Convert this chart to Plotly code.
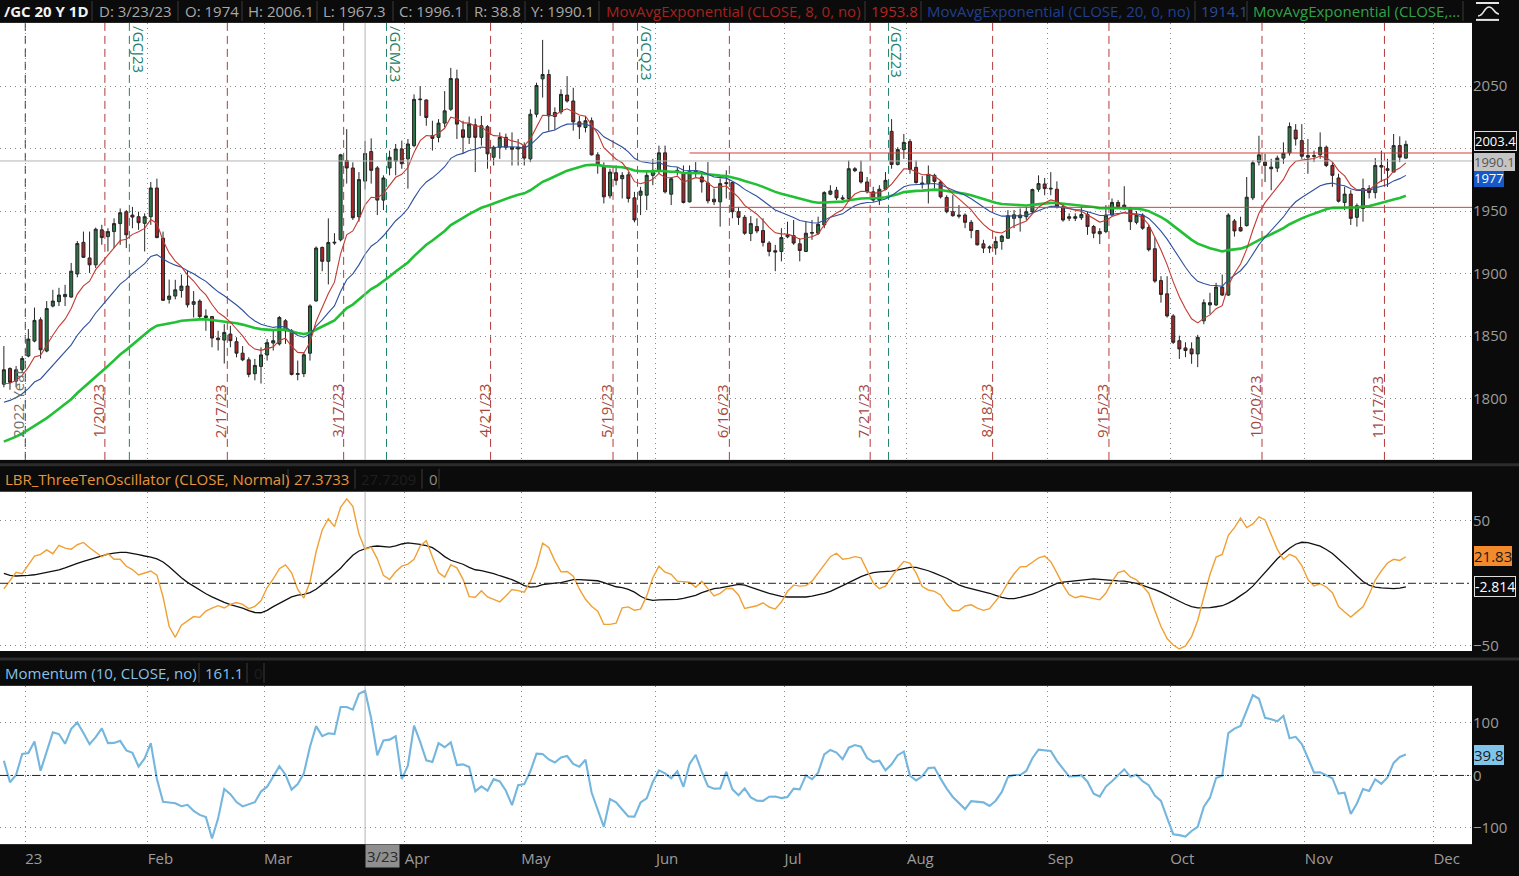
import numpy as np
import pandas as pd
import plotly.graph_objects as go

# ---------------- DATA ----------------
holidays = ["2023-01-02", "2023-01-16", "2023-02-20", "2023-04-07", "2023-05-29",
            "2023-06-19", "2023-07-04", "2023-09-04", "2023-11-23", "2023-12-25"]
calendar = pd.bdate_range("2022-12-27", "2023-12-29", freq="C", holidays=holidays)

open_ = [1811.5, 1824.0, 1814.0, 1823.0, 1834.0, 1846.0, 1863.0, 1838.0, 1874.0, 1877.5,
         1881.5, 1881.2, 1899.7, 1925.0, 1912.5, 1907.0, 1935.0, 1929.6, 1933.6, 1940.0,
         1949.5, 1946.8, 1945.5, 1940.2, 1945.5, 1968.5, 1928.3, 1879.4, 1882.0, 1886.5,
         1890.0, 1875.4, 1878.0, 1864.8, 1865.6, 1848.4, 1846.8, 1851.6, 1845.5, 1836.3,
         1831.0, 1819.9, 1825.7, 1834.9, 1844.4, 1843.7, 1862.2, 1854.2, 1819.3, 1819.9,
         1836.3, 1878.1, 1920.9, 1909.8, 1924.4, 1927.0, 1990.5, 1984.5, 1945.5, 1974.0,
         1997.6, 1984.5, 1958.8, 1984.5, 1990.0, 1999.7, 1991.8, 2002.4, 2039.7, 2038.9,
         2010.3, 2009.0, 2020.4, 2031.5, 2055.8, 2015.0, 2009.0, 2019.0, 2009.0, 2017.5,
         1993.1, 2001.1, 2009.0, 2001.0, 1999.7, 2002.4, 1991.8, 2027.5, 2055.8, 2059.3,
         2028.9, 2029.4, 2042.8, 2038.1, 2021.4, 2016.9, 2022.3, 1995.0, 1985.0, 1962.2,
         1980.7, 1975.9, 1979.0, 1960.6, 1962.7, 1962.7, 1978.6, 1982.6, 1996.6, 1963.5,
         1981.2, 1979.9, 1957.4, 1981.0, 1977.3, 1972.5, 1959.5, 1957.4, 1972.8, 1972.8,
         1949.5, 1945.0, 1932.0, 1937.6, 1934.4, 1924.4, 1918.3, 1917.7, 1929.4, 1930.4,
         1923.8, 1917.7, 1932.3, 1932.3, 1938.9, 1963.5, 1966.7, 1960.6, 1960.1, 1983.9,
         1981.2, 1973.3, 1965.4, 1958.8, 1967.5, 2013.8, 1987.3, 1999.2, 2005.6, 1985.0,
         1972.5, 1972.0, 1978.6, 1973.3, 1960.9, 1949.5, 1946.8, 1946.8, 1941.0, 1934.4,
         1923.8, 1920.4, 1920.4, 1925.7, 1928.3, 1944.2, 1944.7, 1945.5, 1949.5, 1967.5,
         1971.7, 1968.3, 1967.5, 1953.4, 1945.5, 1944.2, 1944.7, 1947.3, 1937.6, 1933.6,
         1933.6, 1946.8, 1956.9, 1952.6, 1952.1, 1941.0, 1946.8, 1936.8, 1919.9, 1894.4,
         1883.8, 1866.1, 1846.3, 1840.5, 1839.7, 1835.7, 1862.2, 1874.9, 1874.9, 1889.2,
         1882.8, 1942.1, 1936.8, 1938.4, 1960.6, 1989.2, 1989.2, 1985.2, 1984.4, 1992.4,
         1996.6, 2014.8, 2006.4, 1993.1, 1994.4, 1995.0, 2001.1, 1986.5, 1976.5, 1956.9,
         1963.6, 1945.0, 1952.1, 1968.0, 1964.8, 1986.5, 1983.9, 1981.2, 2002.4, 1992.4]
high = [1842.0, 1825.0, 1826.0, 1834.0, 1855.6, 1872.8, 1865.0, 1878.0, 1887.0, 1888.6,
        1891.0, 1908.5, 1926.0, 1933.6, 1933.6, 1936.8, 1939.0, 1936.3, 1944.2, 1952.1,
        1950.8, 1953.4, 1949.5, 1948.2, 1973.3, 1975.9, 1933.6, 1895.2, 1895.0, 1899.2,
        1902.4, 1886.0, 1879.4, 1871.4, 1866.1, 1854.2, 1859.5, 1858.2, 1849.0, 1842.0,
        1833.0, 1831.7, 1841.0, 1847.6, 1854.0, 1866.0, 1863.5, 1855.6, 1830.4, 1837.0,
        1875.4, 1921.7, 1921.7, 1944.2, 1932.3, 1995.8, 2015.6, 1989.0, 1981.2, 2006.1,
        2008.2, 1986.0, 1978.6, 1998.4, 2003.7, 2006.4, 2007.7, 2043.4, 2050.0, 2039.4,
        2022.3, 2023.6, 2046.0, 2064.6, 2063.2, 2022.3, 2025.7, 2024.0, 2026.2, 2018.8,
        2002.4, 2013.0, 2012.0, 2013.0, 2007.7, 2005.0, 2031.5, 2052.7, 2087.0, 2063.2,
        2033.0, 2047.4, 2058.0, 2048.7, 2026.2, 2026.2, 2024.9, 1997.1, 1989.0, 1983.9,
        1986.5, 1981.2, 1981.2, 1965.4, 1969.4, 1981.2, 1991.8, 2002.4, 2002.4, 1977.3,
        1985.0, 1986.5, 1986.5, 1989.2, 1979.9, 1989.2, 1968.0, 1976.0, 1982.6, 1973.3,
        1953.4, 1946.8, 1946.0, 1944.2, 1944.2, 1926.0, 1923.0, 1936.3, 1941.5, 1942.9,
        1928.3, 1941.5, 1942.9, 1945.5, 1965.9, 1970.7, 1969.4, 1962.7, 1990.5, 1985.2,
        1990.5, 1977.3, 1969.4, 1970.7, 1981.2, 2023.6, 2001.1, 2011.7, 2007.7, 1990.5,
        1978.0, 1986.5, 1979.9, 1974.6, 1962.7, 1962.7, 1954.8, 1948.2, 1942.9, 1934.9,
        1927.0, 1922.5, 1929.6, 1931.0, 1950.8, 1950.8, 1952.1, 1953.4, 1968.0, 1978.6,
        1976.5, 1981.2, 1973.8, 1956.1, 1948.2, 1948.2, 1954.8, 1949.5, 1938.9, 1936.3,
        1954.8, 1960.1, 1958.8, 1969.9, 1953.4, 1950.0, 1948.2, 1938.9, 1928.8, 1897.9,
        1897.9, 1867.5, 1850.3, 1845.0, 1845.0, 1851.0, 1879.4, 1884.6, 1892.6, 1899.2,
        1948.2, 1943.7, 1945.5, 1977.3, 1990.5, 2010.3, 1995.8, 1991.8, 1994.4, 2005.0,
        2020.9, 2019.6, 2019.6, 2007.7, 1998.4, 2013.0, 2002.4, 1989.2, 1979.9, 1969.4,
        1966.7, 1956.1, 1976.0, 1970.7, 1992.4, 1998.4, 1991.8, 2011.7, 2009.8, 2006.4]
low = [1809.0, 1807.0, 1809.0, 1821.0, 1833.0, 1845.0, 1832.0, 1837.0, 1873.0, 1874.0,
       1874.0, 1880.7, 1897.0, 1912.5, 1900.5, 1904.5, 1923.0, 1917.7, 1920.4, 1923.0,
       1920.4, 1936.3, 1935.0, 1917.7, 1939.0, 1928.3, 1878.0, 1876.0, 1879.4, 1880.7,
       1872.8, 1864.8, 1863.5, 1854.2, 1841.0, 1838.4, 1828.0, 1841.0, 1833.0, 1829.9,
       1817.0, 1814.6, 1812.0, 1830.4, 1838.4, 1842.4, 1843.7, 1818.5, 1814.6, 1817.2,
       1830.4, 1877.5, 1901.9, 1891.3, 1923.0, 1925.7, 1972.0, 1942.9, 1941.5, 1967.3,
       1972.0, 1946.8, 1950.8, 1978.6, 1978.6, 1983.9, 1968.0, 2001.1, 2026.2, 2018.3,
       1998.4, 2005.0, 2017.0, 2030.2, 2007.7, 1995.8, 2003.7, 1981.2, 2002.4, 1983.9,
       1986.5, 1991.8, 1999.0, 1986.5, 1986.5, 1986.5, 1989.2, 2025.0, 2040.8, 2014.3,
       2015.0, 2027.5, 2036.8, 2014.3, 2007.7, 2013.0, 1994.5, 1979.9, 1956.1, 1960.1,
       1970.7, 1960.1, 1956.9, 1941.0, 1946.8, 1950.8, 1970.7, 1979.9, 1964.1, 1954.8,
       1978.6, 1956.1, 1956.9, 1977.3, 1964.8, 1956.1, 1954.8, 1937.6, 1960.1, 1944.2,
       1938.9, 1931.0, 1926.0, 1932.3, 1921.7, 1913.8, 1901.9, 1909.8, 1928.3, 1923.0,
       1909.8, 1917.2, 1927.0, 1931.0, 1936.3, 1962.7, 1958.8, 1958.8, 1957.4, 1981.2,
       1972.0, 1964.1, 1957.4, 1954.8, 1966.7, 1983.9, 1986.5, 1991.8, 1979.9, 1972.0,
       1968.0, 1956.1, 1968.0, 1960.1, 1948.2, 1945.5, 1944.2, 1936.3, 1928.3, 1922.5,
       1916.4, 1916.4, 1915.1, 1919.1, 1927.8, 1936.3, 1933.6, 1942.9, 1948.2, 1965.4,
       1962.7, 1962.7, 1952.1, 1941.5, 1942.0, 1942.0, 1942.9, 1931.0, 1928.3, 1923.6,
       1932.3, 1946.3, 1952.1, 1950.8, 1934.9, 1939.4, 1935.0, 1917.7, 1892.6, 1876.7,
       1864.8, 1843.7, 1831.7, 1833.1, 1827.8, 1825.1, 1859.5, 1867.5, 1874.1, 1882.0,
       1882.0, 1929.6, 1933.6, 1937.6, 1958.8, 1986.5, 1973.3, 1966.7, 1981.2, 1987.9,
       1994.4, 2002.4, 1991.8, 1979.9, 1989.2, 1991.8, 1985.2, 1969.4, 1956.9, 1950.8,
       1938.9, 1937.6, 1941.5, 1960.1, 1960.1, 1973.3, 1969.4, 1981.2, 1989.2, 1991.8]
close = [1823.0, 1813.0, 1823.0, 1832.0, 1847.6, 1862.5, 1839.0, 1872.0, 1878.0, 1882.8,
         1883.3, 1901.9, 1924.0, 1913.0, 1907.0, 1935.5, 1928.8, 1933.6, 1940.0, 1948.7,
         1931.0, 1945.2, 1940.7, 1945.5, 1968.5, 1928.8, 1878.6, 1882.0, 1887.0, 1890.0,
         1875.0, 1877.5, 1865.6, 1866.1, 1848.4, 1847.1, 1852.9, 1846.3, 1836.3, 1831.0,
         1819.3, 1826.5, 1834.9, 1844.7, 1846.3, 1864.8, 1854.2, 1819.3, 1819.9, 1835.0,
         1874.1, 1920.4, 1909.8, 1924.9, 1925.0, 1995.0, 1984.5, 1944.7, 1975.2, 1996.1,
         1982.6, 1958.8, 1976.5, 1993.1, 1999.7, 1987.9, 2003.7, 2039.4, 2039.2, 2024.9,
         2008.2, 2020.4, 2030.2, 2056.1, 2019.6, 2009.0, 2019.6, 2009.0, 2018.3, 1995.8,
         2001.1, 2009.0, 2001.1, 1999.5, 2001.0, 1992.4, 2027.5, 2050.5, 2059.3, 2026.2,
         2025.7, 2043.4, 2038.1, 2021.4, 2017.5, 2022.3, 1995.0, 1987.0, 1961.4, 1981.2,
         1974.6, 1978.6, 1960.1, 1942.9, 1966.0, 1978.6, 1982.6, 1996.6, 1965.4, 1975.9,
         1982.6, 1956.9, 1981.8, 1982.3, 1973.3, 1958.2, 1957.4, 1972.0, 1972.0, 1949.5,
         1945.0, 1932.3, 1940.0, 1934.1, 1924.9, 1917.7, 1917.2, 1928.8, 1931.0, 1924.4,
         1918.5, 1932.3, 1932.8, 1939.4, 1964.8, 1966.1, 1960.6, 1959.8, 1983.9, 1982.3,
         1973.3, 1965.4, 1958.8, 1967.5, 1974.6, 1987.3, 1999.2, 2005.0, 1983.3, 1972.8,
         1971.7, 1979.4, 1973.8, 1961.4, 1949.5, 1946.3, 1946.0, 1941.0, 1934.4, 1923.0,
         1920.4, 1921.2, 1925.7, 1930.0, 1946.3, 1947.0, 1946.8, 1949.5, 1967.2, 1972.0,
         1968.0, 1967.8, 1953.4, 1942.9, 1944.2, 1945.5, 1947.3, 1937.6, 1932.3, 1931.8,
         1946.8, 1956.9, 1953.4, 1954.8, 1941.5, 1946.8, 1936.3, 1919.1, 1894.0, 1883.3,
         1866.1, 1845.0, 1839.7, 1838.4, 1835.7, 1849.0, 1876.7, 1876.7, 1889.2, 1882.8,
         1946.8, 1934.1, 1934.1, 1961.1, 1988.6, 1995.0, 1986.5, 1983.9, 1992.4, 1996.3,
         2017.7, 2007.7, 1993.9, 1994.4, 1993.9, 2001.1, 1986.5, 1978.6, 1957.9, 1963.6,
         1944.2, 1954.3, 1968.0, 1964.8, 1986.5, 1985.2, 1982.6, 2002.4, 1993.1, 2003.4]
# closes of the sessions before the first visible bar (indicator look-back only)
warmup_close = [1754, 1749, 1759, 1769, 1754, 1763, 1780, 1815, 1809, 1781, 1785, 1798,
                1800, 1810, 1795, 1826, 1822, 1791, 1805, 1798, 1830, 1826, 1796, 1804]
ema_seed = {8: 1812.0, 20: 1797.0, 50: 1765.5}   # EMA values on the first visible bar

price_ticks = [1750, 1800, 1850, 1900, 1950, 2000, 2050]
price_tick_text = ["1750", "1800", "1850", "1900", "1950", "", "2050"]  # 2000 sits under the value boxes
month_labels = ["23", "Feb", "Mar", "Apr", "May", "Jun", "Jul", "Aug", "Sep", "Oct", "Nov", "Dec"]
exp_dates = ["2023-01-20", "2023-02-17", "2023-03-17", "2023-04-21", "2023-05-19", "2023-06-16",
             "2023-07-21", "2023-08-18", "2023-09-15", "2023-10-20", "2023-11-17"]
exp_labels = ["1/20/23", "2/17/23", "3/17/23", "4/21/23", "5/19/23", "6/16/23",
              "7/21/23", "8/18/23", "9/15/23", "10/20/23", "11/17/23"]
roll_dates = ["2023-01-26", "2023-03-28", "2023-05-25", "2023-07-26"]
roll_labels = ["/GCJ23", "/GCM23", "/GCQ23", "/GCZ23"]
level_start = "2023-06-08"
level_prices = [1996.5, 1953.0]
cross_date = "2023-03-23"
cross_price = 1990.1
last_price_label = ("2003.4", 2003.4)
ema20_label = ("1977", 1977.0)
osc_labels = ("21.83", 21.83, "-2.814", -2.814)
mom_label = ("39.8", 39.8)

# ---------------- DERIVED ----------------
n = len(close)
xk = np.arange(n)
cal_list = list(calendar)
pos = {d.strftime("%Y-%m-%d"): i for i, d in enumerate(cal_list)}

def ema(vals, period, seed):
    k = 2.0 / (period + 1)
    out = [seed]
    for v in vals[1:]:
        out.append(out[-1] + k * (v - out[-1]))
    return np.array(out)

ema8 = ema(close, 8, ema_seed[8])
ema20 = ema(close, 20, ema_seed[20])
ema50 = ema(close, 50, ema_seed[50])

full = pd.Series(warmup_close + close, dtype=float)
fast_full = full.rolling(3).mean() - full.rolling(10).mean()
fast = fast_full.to_numpy()[len(warmup_close):]
slow = fast_full.rolling(16).mean().to_numpy()[len(warmup_close):]
mom = (full - full.shift(10)).to_numpy()[len(warmup_close):]

# month boundaries (between last bar of previous month and first bar of the month)
month_pos = []
for i in range(1, len(cal_list)):
    if cal_list[i].month != cal_list[i - 1].month and cal_list[i].year == 2023:
        month_pos.append(i - 0.5)
month_pos = month_pos[:12]

# ---------------- LAYOUT CONSTANTS ----------------
W, H = 1519, 876
def px(x):
    return x / W
def py(y):
    return 1 - y / H

XR = 1472 / W
x_range = [-0.63, 239.8]
FONT = "Open Sans, Noto Sans, sans-serif"
AX_GRAY = "#9c9c9c"
GRID = dict(showgrid=True, gridcolor="#8a8a8a", griddash="1px,4px", gridwidth=1)

fig = go.Figure()
fig.add_trace(go.Candlestick(
    x=xk, open=open_, high=high, low=low, close=close,
    increasing=dict(line=dict(color="#262626", width=1), fillcolor="#2a7545"),
    decreasing=dict(line=dict(color="#262626", width=1), fillcolor="#a82527"),
    whiskerwidth=0, xaxis="x", yaxis="y", hoverinfo="skip", showlegend=False))
fig.add_trace(go.Scatter(x=xk, y=ema50, mode="lines", line=dict(color="#22c034", width=2.6),
                         xaxis="x", yaxis="y", hoverinfo="skip"))
fig.add_trace(go.Scatter(x=xk, y=ema20, mode="lines", line=dict(color="#2d4f9e", width=1.1),
                         xaxis="x", yaxis="y", hoverinfo="skip"))
fig.add_trace(go.Scatter(x=xk, y=ema8, mode="lines", line=dict(color="#c23a32", width=1.1),
                         xaxis="x", yaxis="y", hoverinfo="skip"))
fig.add_trace(go.Scatter(x=xk, y=slow, mode="lines", line=dict(color="#111111", width=1.3),
                         xaxis="x2", yaxis="y2", hoverinfo="skip"))
fig.add_trace(go.Scatter(x=xk, y=fast, mode="lines", line=dict(color="#f0a035", width=1.4),
                         xaxis="x2", yaxis="y2", hoverinfo="skip"))
fig.add_trace(go.Scatter(x=xk, y=mom, mode="lines", line=dict(color="#74b6dd", width=2.1),
                         xaxis="x3", yaxis="y3", hoverinfo="skip"))

xbase = dict(range=x_range, tickvals=month_pos, zeroline=False, showline=False,
             fixedrange=True, ticks="", **GRID)
ybase = dict(side="right", zeroline=False, showline=False, ticks="", fixedrange=True,
             tickfont=dict(family=FONT, size=15, color=AX_GRAY), **GRID)

fig.update_layout(
    width=W, height=H, margin=dict(l=0, r=0, t=0, b=0),
    paper_bgcolor="#0b0b0b", plot_bgcolor="#ffffff", showlegend=False,
    font=dict(family=FONT),
    xaxis=dict(domain=[0, XR], anchor="y", showticklabels=False,
               rangeslider=dict(visible=False), **xbase),
    yaxis=dict(domain=[py(462), py(23)], anchor="x", range=[1750.9, 2100.6],
               tickvals=price_ticks, ticktext=price_tick_text, **ybase),
    xaxis2=dict(domain=[0, XR], anchor="y2", showticklabels=False, **xbase),
    yaxis2=dict(domain=[py(654), py(494)], anchor="x2", range=[-54, 73],
                tickvals=[-50, 50], **ybase),
    xaxis3=dict(domain=[0, XR], anchor="y3", showticklabels=True, ticktext=month_labels,
                ticklabelposition="outside right", ticklabelstandoff=4,
                tickfont=dict(family=FONT, size=15, color=AX_GRAY), **xbase),
    yaxis3=dict(domain=[py(848), py(689)], anchor="x3", range=[-130.8, 170.6],
                tickvals=[-100, 0, 100], **ybase),
)

shapes = []
annots = []

# year separator
ypos = pos["2023-01-03"] - 0.5
shapes.append(dict(type="line", xref="x", yref="y domain", x0=ypos, x1=ypos, y0=0, y1=1,
                   line=dict(color="#333333", width=1, dash="8px,5px"), layer="below"))
annots.append(dict(xref="x", yref="paper", x=ypos, xshift=-7, y=py(442), yanchor="bottom",
                   xanchor="center", text="2022 Year", textangle=-90, showarrow=False,
                   font=dict(family=FONT, size=15, color="#6f6f6f")))

# expiration lines
for d, lab in zip(exp_dates, exp_labels):
    xp = pos[d] + 0.5
    shapes.append(dict(type="line", xref="x", yref="y domain", x0=xp, x1=xp, y0=0, y1=1,
                       line=dict(color="#b03b3b", width=1, dash="8px,5px"), layer="below"))
    annots.append(dict(xref="x", yref="paper", x=xp, xshift=-7, y=py(442), yanchor="bottom",
                       xanchor="center", text=lab, textangle=-90, showarrow=False,
                       font=dict(family=FONT, size=15, color="#a5473f")))
# roll lines
for d, lab in zip(roll_dates, roll_labels):
    xp = pos[d] + 0.5
    shapes.append(dict(type="line", xref="x", yref="y domain", x0=xp, x1=xp, y0=0, y1=1,
                       line=dict(color="#23806a", width=1, dash="8px,5px"), layer="below"))
    annots.append(dict(xref="x", yref="paper", x=xp, xshift=9, y=py(24), yanchor="top",
                       xanchor="center", text=lab, textangle=90, showarrow=False,
                       font=dict(family=FONT, size=15, color="#23806a")))
# horizontal levels
for lv in level_prices:
    shapes.append(dict(type="line", xref="x", yref="y", x0=pos[level_start], x1=x_range[1],
                       y0=lv, y1=lv, line=dict(color="#d2403c", width=1)))
# crosshair
cx = pos[cross_date]
for ya in ["y", "y2", "y3"]:
    shapes.append(dict(type="line", xref="x", yref=ya + " domain", x0=cx, x1=cx, y0=0, y1=1,
                       line=dict(color="#b4b4b4", width=1)))
shapes.append(dict(type="line", xref="x", yref="y", x0=x_range[0], x1=x_range[1],
                   y0=cross_price, y1=cross_price, line=dict(color="#b4b4b4", width=1)))
# zero lines
for ya in ["y2", "y3"]:
    shapes.append(dict(type="line", xref="x domain", yref=ya, x0=0, x1=1, y0=0, y1=0,
                       line=dict(color="#222222", width=1, dash="8px,3px,2px,3px")))
# cover for clipped bottom price label + panel separators
shapes.append(dict(type="rect", xref="paper", yref="paper", x0=px(1472), x1=1, y0=py(494), y1=py(465),
                   fillcolor="#0b0b0b", line=dict(width=0), layer="above"))
for yy in [467, 662]:
    shapes.append(dict(type="line", xref="paper", yref="paper", x0=0, x1=1, y0=py(yy), y1=py(yy),
                       line=dict(color="#2c2c2c", width=3)))

# header bars
def header(items, seps, yc):
    for x0, txt, col, bold in items:
        annots.append(dict(xref="paper", yref="paper", x=px(x0), y=py(yc), xanchor="left",
                           yanchor="middle", showarrow=False,
                           text=("<b>%s</b>" % txt) if bold else txt,
                           font=dict(family=FONT, size=15, color=col)))
    for sx in seps:
        shapes.append(dict(type="line", xref="paper", yref="paper", x0=px(sx), x1=px(sx),
                           y0=py(yc - 10), y1=py(yc + 10), line=dict(color="#3a3a3a", width=1)))

header([(2, "/GC 20 Y 1D", "#f2f2f2", True),
        (97, "D: 3/23/23", "#a8a8a8", False),
        (183, "O: 1974", "#a8a8a8", False),
        (246, "H: 2006.1", "#a8a8a8", False),
        (321, "L: 1967.3", "#a8a8a8", False),
        (397, "C: 1996.1", "#a8a8a8", False),
        (472, "R: 38.8", "#a8a8a8", False),
        (529, "Y: 1990.1", "#a8a8a8", False),
        (604, "MovAvgExponential (CLOSE, 8, 0, no)", "#a3221f", False),
        (869, "1953.8", "#b42523", False),
        (925, "MovAvgExponential (CLOSE, 20, 0, no)", "#213f8c", False),
        (1199, "1914.1", "#2a4a9a", False),
        (1251, "MovAvgExponential (CLOSE,...", "#2fa247", False)],
       [92, 178, 242, 317, 393, 467, 525, 599, 865, 921, 1195, 1247, 1463], 11)
header([(3, "LBR_ThreeTenOscillator (CLOSE, Normal)", "#e8953a", False),
        (292, "27.3733", "#e8953a", False),
        (359, "27.7209", "#1e1e1e", False),
        (427, "0", "#8a8a8a", False)],
       [288, 355, 422, 439], 481)
header([(3, "Momentum (10, CLOSE, no)", "#86c2e6", False),
        (203, "161.1", "#86c2e6", False),
        (252, "0", "#1e1e1e", False)],
       [199, 247, 264], 676)

# icon top-right
shapes.append(dict(type="line", xref="paper", yref="paper", x0=px(1476), x1=px(1499), y0=py(3), y1=py(3),
                   line=dict(color="#e6e6e6", width=2)))
shapes.append(dict(type="line", xref="paper", yref="paper", x0=px(1476), x1=px(1499), y0=py(20), y1=py(20),
                   line=dict(color="#e6e6e6", width=2)))
shapes.append(dict(type="path", xref="paper", yref="paper",
                   path="M %f %f C %f %f %f %f %f %f C %f %f %f %f %f %f" % (
                       px(1478), py(16), px(1484), py(16), px(1484), py(7), px(1489), py(7),
                       px(1494), py(7), px(1494), py(14), px(1499), py(14)),
                   line=dict(color="#e6e6e6", width=1.6)))

# right-axis value boxes
def vbox(yref, yv, txt, bg, fg, border, bw=0, size=15, yshift=0):
    annots.append(dict(xref="paper", yref=yref, x=px(1474), y=yv, xanchor="left", yanchor="middle",
                       yshift=yshift, text=txt, showarrow=False, bgcolor=bg, bordercolor=border,
                       borderwidth=bw, borderpad=0, font=dict(family=FONT, size=size, color=fg)))

vbox("y", ema20_label[1], ema20_label[0], "#1559c9", "#ffffff", "#1559c9", size=13, yshift=-1)
vbox("y", cross_price, "%.1f" % cross_price, "#c4c4c4", "#555555", "#c4c4c4", size=13, yshift=-1)
vbox("y", last_price_label[1], last_price_label[0], "#0b0b0b", "#ffffff", "#dddddd", bw=1, size=13, yshift=3)
vbox("y2", osc_labels[1], osc_labels[0], "#f38a2c", "#1a1a1a", "#f38a2c")
vbox("y2", osc_labels[3], osc_labels[2], "#0b0b0b", "#ffffff", "#dddddd", bw=1, size=14)
vbox("y3", mom_label[1], mom_label[0], "#80c4ea", "#1a1a1a", "#80c4ea")

# crosshair date label on the time axis
annots.append(dict(xref="x3", yref="paper", x=cx, y=py(860), xanchor="left", yanchor="middle",
                   text="3/23", showarrow=False, bgcolor="#8f8f8f", borderpad=1,
                   font=dict(family=FONT, size=15, color="#2a2a2a")))

fig.update_layout(shapes=shapes, annotations=annots)
fig.write_html("out.html")
